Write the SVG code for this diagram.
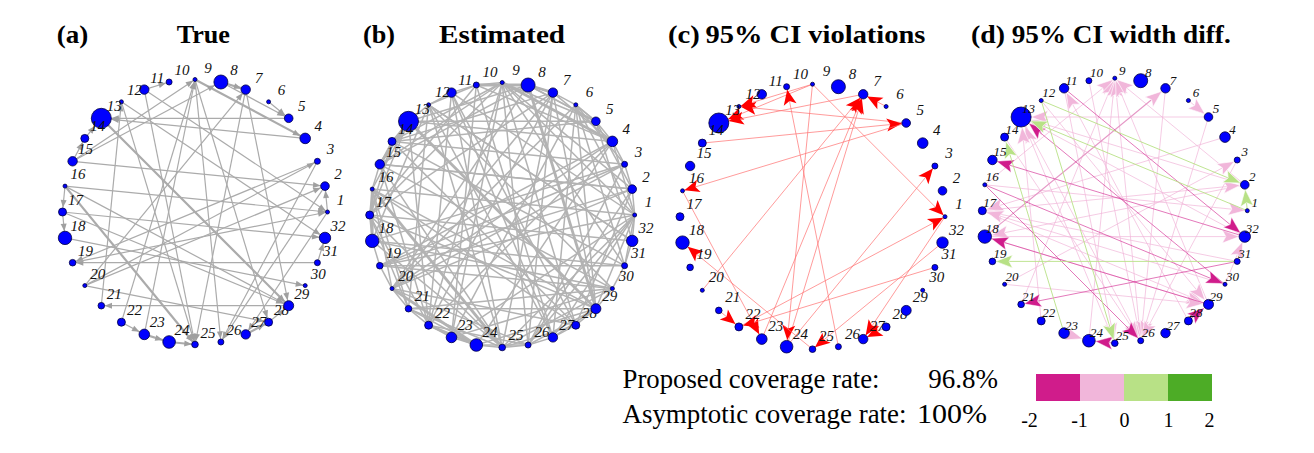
<svg xmlns="http://www.w3.org/2000/svg" xmlns:xlink="http://www.w3.org/1999/xlink" width="1314" height="453" viewBox="0 0 1314 453">
<style>
.t{font-family:"Liberation Serif","Times New Roman",serif;font-weight:bold;font-size:26px;fill:#000}
.cov{font-family:"Liberation Serif","Times New Roman",serif;font-size:27px;fill:#000}
.lg{font-family:"Liberation Serif","Times New Roman",serif;font-size:20px;fill:#000;text-anchor:middle}
.nd circle{fill:#0000ff;stroke:#000040;stroke-width:0.8}
.nd text{font-family:"Liberation Serif","Times New Roman",serif;font-style:italic;font-size:15px;fill:#111;text-anchor:middle}
.pa .nd text{transform:translate(13px,-7px)}
.pb .nd text{transform:translate(13.8px,-7.6px)}
.pc .nd text{transform:translate(14px,-8px)}
.pd .nd text{transform:translate(7.5px,-3.6px);font-size:13px}
.ea line{stroke:#ababab;stroke-width:1.2}
.ea .k{stroke-width:2.2}
.eb line{stroke:#b3b3b3;stroke-width:1.5}
.eb .k{stroke-width:2.8}
.ec line{stroke:#ff7070;stroke-width:0.7}
.ed .p{stroke:#f1b6da;stroke-width:0.9;stroke-opacity:0.8}
.ed .m{stroke:#d01c8b;stroke-width:0.8;stroke-opacity:0.75}
.ed .g{stroke:#b8e186;stroke-width:0.9}
</style>
<defs>
<path id="hs" d="M0,0 L-7.5,-3 L-7.5,3 Z"/>
<path id="hb" d="M0,0 L-15,-6.5 L-11.5,0 L-15,6.5 Z"/>
<path id="hd" d="M0,0 L-17,-6.5 L-13.5,0 L-17,6.5 Z"/>
<marker id="g2" viewBox="-20 -10 30 20" markerWidth="30" markerHeight="20" refX="2" refY="0" orient="auto" markerUnits="userSpaceOnUse"><use href="#hs" fill="#a0a0a0"/></marker>
<marker id="g3" viewBox="-20 -10 30 20" markerWidth="30" markerHeight="20" refX="3.2" refY="0" orient="auto" markerUnits="userSpaceOnUse"><use href="#hs" fill="#a0a0a0"/></marker>
<marker id="g45" viewBox="-20 -10 30 20" markerWidth="30" markerHeight="20" refX="4.5" refY="0" orient="auto" markerUnits="userSpaceOnUse"><use href="#hs" fill="#a0a0a0"/></marker>
<marker id="g55" viewBox="-20 -10 30 20" markerWidth="30" markerHeight="20" refX="5.5" refY="0" orient="auto" markerUnits="userSpaceOnUse"><use href="#hs" fill="#a0a0a0"/></marker>
<marker id="g65" viewBox="-20 -10 30 20" markerWidth="30" markerHeight="20" refX="6.7" refY="0" orient="auto" markerUnits="userSpaceOnUse"><use href="#hs" fill="#a0a0a0"/></marker>
<marker id="g10" viewBox="-20 -10 30 20" markerWidth="30" markerHeight="20" refX="10" refY="0" orient="auto" markerUnits="userSpaceOnUse"><use href="#hs" fill="#a0a0a0"/></marker>
<marker id="r2" viewBox="-20 -10 30 20" markerWidth="30" markerHeight="20" refX="2" refY="0" orient="auto" markerUnits="userSpaceOnUse"><use href="#hb" fill="#ff0000"/></marker>
<marker id="r3" viewBox="-20 -10 30 20" markerWidth="30" markerHeight="20" refX="3.2" refY="0" orient="auto" markerUnits="userSpaceOnUse"><use href="#hb" fill="#ff0000"/></marker>
<marker id="r45" viewBox="-20 -10 30 20" markerWidth="30" markerHeight="20" refX="4.5" refY="0" orient="auto" markerUnits="userSpaceOnUse"><use href="#hb" fill="#ff0000"/></marker>
<marker id="r55" viewBox="-20 -10 30 20" markerWidth="30" markerHeight="20" refX="5.5" refY="0" orient="auto" markerUnits="userSpaceOnUse"><use href="#hb" fill="#ff0000"/></marker>
<marker id="r65" viewBox="-20 -10 30 20" markerWidth="30" markerHeight="20" refX="6.7" refY="0" orient="auto" markerUnits="userSpaceOnUse"><use href="#hb" fill="#ff0000"/></marker>
<marker id="r10" viewBox="-20 -10 30 20" markerWidth="30" markerHeight="20" refX="10" refY="0" orient="auto" markerUnits="userSpaceOnUse"><use href="#hb" fill="#ff0000"/></marker>
<marker id="p2" viewBox="-20 -10 30 20" markerWidth="30" markerHeight="20" refX="2" refY="0" orient="auto" markerUnits="userSpaceOnUse"><use href="#hd" fill="#f1b6da" stroke="#fff" stroke-width="0.6"/></marker>
<marker id="p3" viewBox="-20 -10 30 20" markerWidth="30" markerHeight="20" refX="3.2" refY="0" orient="auto" markerUnits="userSpaceOnUse"><use href="#hd" fill="#f1b6da" stroke="#fff" stroke-width="0.6"/></marker>
<marker id="p45" viewBox="-20 -10 30 20" markerWidth="30" markerHeight="20" refX="4.5" refY="0" orient="auto" markerUnits="userSpaceOnUse"><use href="#hd" fill="#f1b6da" stroke="#fff" stroke-width="0.6"/></marker>
<marker id="p55" viewBox="-20 -10 30 20" markerWidth="30" markerHeight="20" refX="5.5" refY="0" orient="auto" markerUnits="userSpaceOnUse"><use href="#hd" fill="#f1b6da" stroke="#fff" stroke-width="0.6"/></marker>
<marker id="p65" viewBox="-20 -10 30 20" markerWidth="30" markerHeight="20" refX="6.7" refY="0" orient="auto" markerUnits="userSpaceOnUse"><use href="#hd" fill="#f1b6da" stroke="#fff" stroke-width="0.6"/></marker>
<marker id="p10" viewBox="-20 -10 30 20" markerWidth="30" markerHeight="20" refX="10" refY="0" orient="auto" markerUnits="userSpaceOnUse"><use href="#hd" fill="#f1b6da" stroke="#fff" stroke-width="0.6"/></marker>
<marker id="m2" viewBox="-20 -10 30 20" markerWidth="30" markerHeight="20" refX="2" refY="0" orient="auto" markerUnits="userSpaceOnUse"><use href="#hd" fill="#d01c8b" stroke="#fff" stroke-width="0.4"/></marker>
<marker id="m3" viewBox="-20 -10 30 20" markerWidth="30" markerHeight="20" refX="3.2" refY="0" orient="auto" markerUnits="userSpaceOnUse"><use href="#hd" fill="#d01c8b" stroke="#fff" stroke-width="0.4"/></marker>
<marker id="m45" viewBox="-20 -10 30 20" markerWidth="30" markerHeight="20" refX="4.5" refY="0" orient="auto" markerUnits="userSpaceOnUse"><use href="#hd" fill="#d01c8b" stroke="#fff" stroke-width="0.4"/></marker>
<marker id="m55" viewBox="-20 -10 30 20" markerWidth="30" markerHeight="20" refX="5.5" refY="0" orient="auto" markerUnits="userSpaceOnUse"><use href="#hd" fill="#d01c8b" stroke="#fff" stroke-width="0.4"/></marker>
<marker id="m65" viewBox="-20 -10 30 20" markerWidth="30" markerHeight="20" refX="6.7" refY="0" orient="auto" markerUnits="userSpaceOnUse"><use href="#hd" fill="#d01c8b" stroke="#fff" stroke-width="0.4"/></marker>
<marker id="m10" viewBox="-20 -10 30 20" markerWidth="30" markerHeight="20" refX="10" refY="0" orient="auto" markerUnits="userSpaceOnUse"><use href="#hd" fill="#d01c8b" stroke="#fff" stroke-width="0.4"/></marker>
<marker id="q3" viewBox="-20 -10 30 20" markerWidth="30" markerHeight="20" refX="3.2" refY="0" orient="auto" markerUnits="userSpaceOnUse"><use href="#hd" fill="#b8e186" stroke="#fff" stroke-width="0.6"/></marker>
<marker id="q45" viewBox="-20 -10 30 20" markerWidth="30" markerHeight="20" refX="4.5" refY="0" orient="auto" markerUnits="userSpaceOnUse"><use href="#hd" fill="#b8e186" stroke="#fff" stroke-width="0.6"/></marker>
<marker id="q10" viewBox="-20 -10 30 20" markerWidth="30" markerHeight="20" refX="10" refY="0" orient="auto" markerUnits="userSpaceOnUse"><use href="#hd" fill="#b8e186" stroke="#fff" stroke-width="0.6"/></marker>
</defs>
<rect width="1314" height="453" fill="#ffffff"/>

<g id="titles">
<text class="t" x="56.7" y="42.5" textLength="31.6" lengthAdjust="spacingAndGlyphs">(a)</text>
<text class="t" x="176.7" y="42.5" textLength="53.3" lengthAdjust="spacingAndGlyphs">True</text>
<text class="t" x="363" y="42.5" textLength="32" lengthAdjust="spacingAndGlyphs">(b)</text>
<text class="t" x="439" y="42.5" textLength="126" lengthAdjust="spacingAndGlyphs">Estimated</text>
<text class="t" x="668" y="42.5" textLength="31.8" lengthAdjust="spacingAndGlyphs">(c)</text>
<text class="t" x="705.6" y="42.5" textLength="219.8" lengthAdjust="spacingAndGlyphs">95% CI violations</text>
<text class="t" x="971" y="42.5" textLength="34" lengthAdjust="spacingAndGlyphs">(d)</text>
<text class="t" x="1011.7" y="42.5" textLength="219" lengthAdjust="spacingAndGlyphs">95% CI width diff.</text>
</g>

<!-- Panel (a) True -->
<g id="panel-a" class="pa" transform="translate(195,212)">
<g id="edges-a" class="ea">
<line x1="0" y1="-132.5" x2="110.2" y2="-73.6" class="k" marker-end="url(#g55)"/>
<line x1="25.9" y1="-130" x2="50.7" y2="-122.4" class="k" marker-end="url(#g45)"/>
<line x1="25.9" y1="-130" x2="93.7" y2="-93.7" marker-end="url(#g45)"/>
<line x1="73.6" y1="-110.2" x2="93.7" y2="-93.7" marker-end="url(#g45)"/>
<line x1="50.7" y1="-122.4" x2="93.7" y2="93.7" marker-end="url(#g55)"/>
<line x1="50.7" y1="-122.4" x2="0" y2="132.5" marker-end="url(#g3)"/>
<line x1="0" y1="-132.5" x2="25.9" y2="130" marker-end="url(#g3)"/>
<line x1="0" y1="-132.5" x2="73.6" y2="110.2" marker-end="url(#g45)"/>
<line x1="-50.7" y1="122.4" x2="0" y2="-132.5" marker-end="url(#g2)"/>
<line x1="-73.6" y1="110.2" x2="0" y2="-132.5" marker-end="url(#g2)"/>
<line x1="-122.4" y1="-50.7" x2="0" y2="-132.5" marker-end="url(#g2)"/>
<line x1="-122.4" y1="-50.7" x2="25.9" y2="-130" marker-end="url(#g65)"/>
<line x1="-50.7" y1="-122.4" x2="-25.9" y2="-130" marker-end="url(#g3)"/>
<line x1="-93.7" y1="-93.7" x2="93.7" y2="93.7" class="k" marker-end="url(#g55)"/>
<line x1="-130" y1="-25.9" x2="93.7" y2="93.7" marker-end="url(#g55)"/>
<line x1="-132.5" y1="0" x2="93.7" y2="93.7" marker-end="url(#g55)"/>
<line x1="-130" y1="25.9" x2="110.2" y2="73.6" marker-end="url(#g2)"/>
<line x1="-130" y1="-25.9" x2="132.5" y2="0" marker-end="url(#g2)"/>
<line x1="-122.4" y1="-50.7" x2="130" y2="-25.9" marker-end="url(#g45)"/>
<line x1="110.2" y1="-73.6" x2="-93.7" y2="-93.7" marker-end="url(#g10)"/>
<line x1="93.7" y1="-93.7" x2="-93.7" y2="-93.7" marker-end="url(#g10)"/>
<line x1="122.4" y1="-50.7" x2="-122.4" y2="50.7" marker-end="url(#g3)"/>
<line x1="122.4" y1="50.7" x2="-122.4" y2="50.7" marker-end="url(#g3)"/>
<line x1="-110.2" y1="73.6" x2="122.4" y2="-50.7" marker-end="url(#g3)"/>
<line x1="-110.2" y1="73.6" x2="50.7" y2="-122.4" marker-end="url(#g45)"/>
<line x1="93.7" y1="93.7" x2="-93.7" y2="93.7" marker-end="url(#g3)"/>
<line x1="-110.2" y1="73.6" x2="73.6" y2="110.2" marker-end="url(#g45)"/>
<line x1="-73.6" y1="-110.2" x2="0" y2="132.5" marker-end="url(#g3)"/>
<line x1="-50.7" y1="-122.4" x2="0" y2="132.5" marker-end="url(#g3)"/>
<line x1="-130" y1="-25.9" x2="0" y2="132.5" class="k" marker-end="url(#g3)"/>
<line x1="-93.7" y1="93.7" x2="-73.6" y2="-110.2" marker-end="url(#g2)"/>
<line x1="-130" y1="-25.9" x2="-132.5" y2="0" marker-end="url(#g45)"/>
<line x1="-132.5" y1="0" x2="-130" y2="25.9" marker-end="url(#g65)"/>
<line x1="-110.2" y1="-73.6" x2="-93.7" y2="-93.7" marker-end="url(#g10)"/>
<line x1="-122.4" y1="-50.7" x2="-110.2" y2="-73.6" marker-end="url(#g45)"/>
<line x1="-73.6" y1="110.2" x2="-50.7" y2="122.4" marker-end="url(#g55)"/>
<line x1="-50.7" y1="122.4" x2="-25.9" y2="130" class="k" marker-end="url(#g65)"/>
<line x1="-25.9" y1="130" x2="0" y2="132.5" class="k" marker-end="url(#g3)"/>
<line x1="50.7" y1="122.4" x2="73.6" y2="110.2" class="k" marker-end="url(#g45)"/>
<line x1="73.6" y1="110.2" x2="93.7" y2="93.7" marker-end="url(#g55)"/>
<line x1="122.4" y1="50.7" x2="130" y2="25.9" marker-end="url(#g55)"/>
<line x1="132.5" y1="0" x2="130" y2="-25.9" marker-end="url(#g45)"/>
<line x1="130" y1="-25.9" x2="25.9" y2="130" marker-end="url(#g3)"/>
<line x1="122.4" y1="-50.7" x2="25.9" y2="130" marker-end="url(#g3)"/>
<line x1="132.5" y1="0" x2="50.7" y2="122.4" marker-end="url(#g45)"/>
<line x1="-73.6" y1="-110.2" x2="130" y2="25.9" marker-end="url(#g55)"/>
<line x1="-50.7" y1="-122.4" x2="132.5" y2="0" marker-end="url(#g2)"/>
<line x1="-122.4" y1="50.7" x2="132.5" y2="0" marker-end="url(#g2)"/>
<line x1="-110.2" y1="73.6" x2="130" y2="-25.9" marker-end="url(#g45)"/>
<line x1="-132.5" y1="0" x2="130" y2="25.9" marker-end="url(#g55)"/>
</g>
<g id="nodes-a" class="nd">
<g id="a-n1" transform="translate(132.5,0)"><circle r="2"/><text>1</text></g>
<g id="a-n2" transform="translate(130,-25.9)"><circle r="4.3"/><text>2</text></g>
<g id="a-n3" transform="translate(122.4,-50.7)"><circle r="3"/><text>3</text></g>
<g id="a-n4" transform="translate(110.2,-73.6)"><circle r="5.3"/><text>4</text></g>
<g id="a-n5" transform="translate(93.7,-93.7)"><circle r="4.3"/><text>5</text></g>
<g id="a-n6" transform="translate(73.6,-110.2)"><circle r="2"/><text>6</text></g>
<g id="a-n7" transform="translate(50.7,-122.4)"><circle r="4.7"/><text>7</text></g>
<g id="a-n8" transform="translate(25.9,-130)"><circle r="7"/><text>8</text></g>
<g id="a-n9" transform="translate(0,-132.5)"><circle r="2"/><text>9</text></g>
<g id="a-n10" transform="translate(-25.9,-130)"><circle r="3"/><text>10</text></g>
<g id="a-n11" transform="translate(-50.7,-122.4)"><circle r="4.7"/><text>11</text></g>
<g id="a-n12" transform="translate(-73.6,-110.2)"><circle r="2"/><text>12</text></g>
<g id="a-n13" transform="translate(-93.7,-93.7)"><circle r="10"/><text>13</text></g>
<g id="a-n14" transform="translate(-110.2,-73.6)"><circle r="4"/><text>14</text></g>
<g id="a-n15" transform="translate(-122.4,-50.7)"><circle r="4.7"/><text>15</text></g>
<g id="a-n16" transform="translate(-130,-25.9)"><circle r="2"/><text>16</text></g>
<g id="a-n17" transform="translate(-132.5,0)"><circle r="4"/><text>17</text></g>
<g id="a-n18" transform="translate(-130,25.9)"><circle r="6.7"/><text>18</text></g>
<g id="a-n19" transform="translate(-122.4,50.7)"><circle r="3.3"/><text>19</text></g>
<g id="a-n20" transform="translate(-110.2,73.6)"><circle r="2"/><text>20</text></g>
<g id="a-n21" transform="translate(-93.7,93.7)"><circle r="3.3"/><text>21</text></g>
<g id="a-n22" transform="translate(-73.6,110.2)"><circle r="4"/><text>22</text></g>
<g id="a-n23" transform="translate(-50.7,122.4)"><circle r="5.3"/><text>23</text></g>
<g id="a-n24" transform="translate(-25.9,130)"><circle r="6.3"/><text>24</text></g>
<g id="a-n25" transform="translate(0,132.5)"><circle r="3.3"/><text>25</text></g>
<g id="a-n26" transform="translate(25.9,130)"><circle r="3"/><text>26</text></g>
<g id="a-n27" transform="translate(50.7,122.4)"><circle r="4.7"/><text>27</text></g>
<g id="a-n28" transform="translate(73.6,110.2)"><circle r="4"/><text>28</text></g>
<g id="a-n29" transform="translate(93.7,93.7)"><circle r="5"/><text>29</text></g>
<g id="a-n30" transform="translate(110.2,73.6)"><circle r="2"/><text>30</text></g>
<g id="a-n31" transform="translate(122.4,50.7)"><circle r="3"/><text>31</text></g>
<g id="a-n32" transform="translate(130,25.9)"><circle r="5.7"/><text>32</text></g>
</g>
</g>

<!-- Panel (b) Estimated -->
<g id="panel-b" class="pb" transform="translate(502.2,215)">
<g id="edges-b" class="eb">
<line x1="0" y1="-132.5" x2="110.2" y2="-73.6" class="k"/>
<line x1="25.9" y1="-130" x2="50.7" y2="-122.4" class="k"/>
<line x1="25.9" y1="-130" x2="93.7" y2="-93.7"/>
<line x1="73.6" y1="-110.2" x2="93.7" y2="-93.7"/>
<line x1="50.7" y1="-122.4" x2="93.7" y2="93.7"/>
<line x1="50.7" y1="-122.4" x2="0" y2="132.5"/>
<line x1="0" y1="-132.5" x2="25.9" y2="130"/>
<line x1="0" y1="-132.5" x2="73.6" y2="110.2"/>
<line x1="-50.7" y1="122.4" x2="0" y2="-132.5"/>
<line x1="-73.6" y1="110.2" x2="0" y2="-132.5"/>
<line x1="-122.4" y1="-50.7" x2="0" y2="-132.5"/>
<line x1="-122.4" y1="-50.7" x2="25.9" y2="-130"/>
<line x1="-50.7" y1="-122.4" x2="-25.9" y2="-130"/>
<line x1="-93.7" y1="-93.7" x2="93.7" y2="93.7" class="k"/>
<line x1="-130" y1="-25.9" x2="93.7" y2="93.7"/>
<line x1="-132.5" y1="0" x2="93.7" y2="93.7"/>
<line x1="-130" y1="25.9" x2="110.2" y2="73.6"/>
<line x1="-130" y1="-25.9" x2="132.5" y2="0"/>
<line x1="-122.4" y1="-50.7" x2="130" y2="-25.9"/>
<line x1="110.2" y1="-73.6" x2="-93.7" y2="-93.7"/>
<line x1="93.7" y1="-93.7" x2="-93.7" y2="-93.7"/>
<line x1="122.4" y1="-50.7" x2="-122.4" y2="50.7"/>
<line x1="122.4" y1="50.7" x2="-122.4" y2="50.7"/>
<line x1="-110.2" y1="73.6" x2="122.4" y2="-50.7"/>
<line x1="-110.2" y1="73.6" x2="50.7" y2="-122.4"/>
<line x1="93.7" y1="93.7" x2="-93.7" y2="93.7"/>
<line x1="-110.2" y1="73.6" x2="73.6" y2="110.2"/>
<line x1="-73.6" y1="-110.2" x2="0" y2="132.5"/>
<line x1="-50.7" y1="-122.4" x2="0" y2="132.5"/>
<line x1="-130" y1="-25.9" x2="0" y2="132.5" class="k"/>
<line x1="-93.7" y1="93.7" x2="-73.6" y2="-110.2"/>
<line x1="-130" y1="-25.9" x2="-132.5" y2="0"/>
<line x1="-132.5" y1="0" x2="-130" y2="25.9"/>
<line x1="-110.2" y1="-73.6" x2="-93.7" y2="-93.7"/>
<line x1="-122.4" y1="-50.7" x2="-110.2" y2="-73.6"/>
<line x1="-73.6" y1="110.2" x2="-50.7" y2="122.4"/>
<line x1="-50.7" y1="122.4" x2="-25.9" y2="130"/>
<line x1="-25.9" y1="130" x2="0" y2="132.5"/>
<line x1="50.7" y1="122.4" x2="73.6" y2="110.2"/>
<line x1="73.6" y1="110.2" x2="93.7" y2="93.7"/>
<line x1="122.4" y1="50.7" x2="130" y2="25.9"/>
<line x1="132.5" y1="0" x2="130" y2="-25.9"/>
<line x1="130" y1="-25.9" x2="25.9" y2="130"/>
<line x1="122.4" y1="-50.7" x2="25.9" y2="130"/>
<line x1="132.5" y1="0" x2="50.7" y2="122.4"/>
<line x1="-73.6" y1="-110.2" x2="130" y2="25.9"/>
<line x1="-50.7" y1="-122.4" x2="132.5" y2="0"/>
<line x1="-122.4" y1="50.7" x2="132.5" y2="0"/>
<line x1="-110.2" y1="73.6" x2="130" y2="-25.9"/>
<line x1="-132.5" y1="0" x2="130" y2="25.9"/>
<line x1="132.5" y1="0" x2="0" y2="-132.5"/>
<line x1="130" y1="-25.9" x2="-122.4" y2="-50.7"/>
<line x1="122.4" y1="-50.7" x2="-110.2" y2="-73.6"/>
<line x1="110.2" y1="-73.6" x2="-122.4" y2="50.7"/>
<line x1="93.7" y1="-93.7" x2="-110.2" y2="-73.6"/>
<line x1="73.6" y1="-110.2" x2="-110.2" y2="73.6"/>
<line x1="50.7" y1="-122.4" x2="-132.5" y2="0"/>
<line x1="25.9" y1="-130" x2="-110.2" y2="73.6"/>
<line x1="0" y1="-132.5" x2="-132.5" y2="0"/>
<line x1="-25.9" y1="-130" x2="-50.7" y2="122.4"/>
<line x1="-50.7" y1="-122.4" x2="-73.6" y2="110.2"/>
<line x1="-73.6" y1="-110.2" x2="50.7" y2="122.4"/>
<line x1="-93.7" y1="-93.7" x2="-73.6" y2="110.2"/>
<line x1="-110.2" y1="-73.6" x2="73.6" y2="110.2"/>
<line x1="-122.4" y1="-50.7" x2="0" y2="132.5"/>
<line x1="-130" y1="-25.9" x2="73.6" y2="110.2"/>
<line x1="-132.5" y1="0" x2="0" y2="132.5"/>
<line x1="-130" y1="25.9" x2="122.4" y2="50.7"/>
<line x1="-122.4" y1="50.7" x2="110.2" y2="73.6"/>
<line x1="-110.2" y1="73.6" x2="110.2" y2="-73.6"/>
<line x1="-93.7" y1="93.7" x2="110.2" y2="73.6"/>
<line x1="-73.6" y1="110.2" x2="110.2" y2="-73.6"/>
<line x1="-50.7" y1="122.4" x2="132.5" y2="0"/>
<line x1="-25.9" y1="130" x2="110.2" y2="-73.6"/>
<line x1="0" y1="132.5" x2="132.5" y2="0"/>
<line x1="25.9" y1="130" x2="50.7" y2="-122.4"/>
<line x1="50.7" y1="122.4" x2="73.6" y2="-110.2"/>
<line x1="73.6" y1="110.2" x2="-50.7" y2="-122.4"/>
<line x1="93.7" y1="93.7" x2="73.6" y2="-110.2"/>
<line x1="110.2" y1="73.6" x2="-73.6" y2="-110.2"/>
<line x1="122.4" y1="50.7" x2="0" y2="-132.5"/>
<line x1="130" y1="25.9" x2="-73.6" y2="-110.2"/>
<line x1="132.5" y1="0" x2="73.6" y2="-110.2"/>
<line x1="130" y1="-25.9" x2="0" y2="-132.5"/>
<line x1="122.4" y1="-50.7" x2="-130" y2="25.9"/>
<line x1="110.2" y1="-73.6" x2="-25.9" y2="-130"/>
<line x1="93.7" y1="-93.7" x2="0" y2="-132.5"/>
<line x1="73.6" y1="-110.2" x2="-50.7" y2="122.4"/>
<line x1="50.7" y1="-122.4" x2="-110.2" y2="-73.6"/>
<line x1="25.9" y1="-130" x2="-93.7" y2="-93.7"/>
<line x1="0" y1="-132.5" x2="-110.2" y2="-73.6"/>
<line x1="-25.9" y1="-130" x2="-132.5" y2="0"/>
<line x1="-50.7" y1="-122.4" x2="50.7" y2="122.4"/>
<line x1="-73.6" y1="-110.2" x2="-130" y2="25.9"/>
<line x1="-93.7" y1="-93.7" x2="-132.5" y2="0"/>
<line x1="-110.2" y1="-73.6" x2="122.4" y2="50.7"/>
<line x1="-122.4" y1="-50.7" x2="-73.6" y2="110.2"/>
<line x1="-130" y1="-25.9" x2="-93.7" y2="93.7"/>
<line x1="-132.5" y1="0" x2="-73.6" y2="110.2"/>
<line x1="-130" y1="25.9" x2="0" y2="132.5"/>
<line x1="-122.4" y1="50.7" x2="130" y2="-25.9"/>
<line x1="-110.2" y1="73.6" x2="25.9" y2="130"/>
<line x1="-93.7" y1="93.7" x2="0" y2="132.5"/>
<line x1="-73.6" y1="110.2" x2="50.7" y2="-122.4"/>
<line x1="-50.7" y1="122.4" x2="110.2" y2="73.6"/>
<line x1="-25.9" y1="130" x2="93.7" y2="93.7"/>
<line x1="0" y1="132.5" x2="110.2" y2="73.6"/>
<line x1="25.9" y1="130" x2="132.5" y2="0"/>
<line x1="50.7" y1="122.4" x2="-25.9" y2="-130"/>
<line x1="73.6" y1="110.2" x2="130" y2="-25.9"/>
<line x1="93.7" y1="93.7" x2="132.5" y2="0"/>
<line x1="110.2" y1="73.6" x2="-122.4" y2="-50.7"/>
<line x1="122.4" y1="50.7" x2="73.6" y2="-110.2"/>
<line x1="130" y1="25.9" x2="93.7" y2="-93.7"/>
<line x1="-50.7" y1="-122.4" x2="-73.6" y2="-110.2"/>
<line x1="-73.6" y1="-110.2" x2="-93.7" y2="-93.7"/>
<line x1="-93.7" y1="-93.7" x2="-122.4" y2="-50.7" class="k"/>
<line x1="-122.4" y1="-50.7" x2="-130" y2="-25.9"/>
<line x1="-130" y1="-25.9" x2="-130" y2="25.9" class="k"/>
<line x1="-130" y1="25.9" x2="-122.4" y2="50.7"/>
<line x1="-122.4" y1="50.7" x2="-110.2" y2="73.6"/>
<line x1="-110.2" y1="73.6" x2="-93.7" y2="93.7"/>
<line x1="-93.7" y1="93.7" x2="-73.6" y2="110.2"/>
<line x1="-73.6" y1="110.2" x2="-25.9" y2="130" class="k"/>
<line x1="-25.9" y1="130" x2="25.9" y2="130"/>
<line x1="0" y1="132.5" x2="25.9" y2="130"/>
<line x1="25.9" y1="130" x2="50.7" y2="122.4"/>
<line x1="50.7" y1="122.4" x2="93.7" y2="93.7"/>
<line x1="93.7" y1="93.7" x2="110.2" y2="73.6"/>
<line x1="110.2" y1="73.6" x2="122.4" y2="50.7"/>
<line x1="122.4" y1="50.7" x2="132.5" y2="0"/>
<line x1="130" y1="25.9" x2="132.5" y2="0"/>
<line x1="130" y1="-25.9" x2="122.4" y2="-50.7"/>
<line x1="122.4" y1="-50.7" x2="110.2" y2="-73.6"/>
<line x1="110.2" y1="-73.6" x2="93.7" y2="-93.7"/>
<line x1="93.7" y1="-93.7" x2="73.6" y2="-110.2"/>
<line x1="73.6" y1="-110.2" x2="50.7" y2="-122.4"/>
<line x1="50.7" y1="-122.4" x2="25.9" y2="-130"/>
<line x1="0" y1="-132.5" x2="-25.9" y2="-130"/>
<line x1="-25.9" y1="-130" x2="-73.6" y2="-110.2"/>
<line x1="25.9" y1="-130" x2="-25.9" y2="-130" class="k"/>
<line x1="-93.7" y1="-93.7" x2="-130" y2="-25.9"/>
<line x1="-110.2" y1="-73.6" x2="-132.5" y2="0"/>
<line x1="-130" y1="-25.9" x2="-110.2" y2="73.6"/>
<line x1="-132.5" y1="0" x2="-93.7" y2="93.7"/>
<line x1="-110.2" y1="73.6" x2="-25.9" y2="130" class="k"/>
<line x1="-93.7" y1="93.7" x2="-25.9" y2="130"/>
<line x1="-73.6" y1="110.2" x2="25.9" y2="130"/>
<line x1="0" y1="132.5" x2="73.6" y2="110.2"/>
<line x1="25.9" y1="130" x2="93.7" y2="93.7"/>
<line x1="110.2" y1="-73.6" x2="50.7" y2="-122.4"/>
<line x1="93.7" y1="-93.7" x2="25.9" y2="-130"/>
<line x1="122.4" y1="-50.7" x2="73.6" y2="-110.2"/>
<line x1="130" y1="-25.9" x2="93.7" y2="-93.7"/>
<line x1="132.5" y1="0" x2="110.2" y2="-73.6"/>
<line x1="25.9" y1="-130" x2="93.7" y2="93.7" class="k"/>
</g>
<g id="nodes-b" class="nd">
<g id="b-n1" transform="translate(132.5,0)"><circle r="2"/><text>1</text></g>
<g id="b-n2" transform="translate(130,-25.9)"><circle r="4.3"/><text>2</text></g>
<g id="b-n3" transform="translate(122.4,-50.7)"><circle r="3"/><text>3</text></g>
<g id="b-n4" transform="translate(110.2,-73.6)"><circle r="5.3"/><text>4</text></g>
<g id="b-n5" transform="translate(93.7,-93.7)"><circle r="4.3"/><text>5</text></g>
<g id="b-n6" transform="translate(73.6,-110.2)"><circle r="2"/><text>6</text></g>
<g id="b-n7" transform="translate(50.7,-122.4)"><circle r="4.7"/><text>7</text></g>
<g id="b-n8" transform="translate(25.9,-130)"><circle r="7"/><text>8</text></g>
<g id="b-n9" transform="translate(0,-132.5)"><circle r="2"/><text>9</text></g>
<g id="b-n10" transform="translate(-25.9,-130)"><circle r="3"/><text>10</text></g>
<g id="b-n11" transform="translate(-50.7,-122.4)"><circle r="4.7"/><text>11</text></g>
<g id="b-n12" transform="translate(-73.6,-110.2)"><circle r="2"/><text>12</text></g>
<g id="b-n13" transform="translate(-93.7,-93.7)"><circle r="10"/><text>13</text></g>
<g id="b-n14" transform="translate(-110.2,-73.6)"><circle r="4"/><text>14</text></g>
<g id="b-n15" transform="translate(-122.4,-50.7)"><circle r="4.7"/><text>15</text></g>
<g id="b-n16" transform="translate(-130,-25.9)"><circle r="2"/><text>16</text></g>
<g id="b-n17" transform="translate(-132.5,0)"><circle r="4"/><text>17</text></g>
<g id="b-n18" transform="translate(-130,25.9)"><circle r="6.7"/><text>18</text></g>
<g id="b-n19" transform="translate(-122.4,50.7)"><circle r="3.3"/><text>19</text></g>
<g id="b-n20" transform="translate(-110.2,73.6)"><circle r="2"/><text>20</text></g>
<g id="b-n21" transform="translate(-93.7,93.7)"><circle r="3.3"/><text>21</text></g>
<g id="b-n22" transform="translate(-73.6,110.2)"><circle r="4"/><text>22</text></g>
<g id="b-n23" transform="translate(-50.7,122.4)"><circle r="5.3"/><text>23</text></g>
<g id="b-n24" transform="translate(-25.9,130)"><circle r="6.3"/><text>24</text></g>
<g id="b-n25" transform="translate(0,132.5)"><circle r="3.3"/><text>25</text></g>
<g id="b-n26" transform="translate(25.9,130)"><circle r="3"/><text>26</text></g>
<g id="b-n27" transform="translate(50.7,122.4)"><circle r="4.7"/><text>27</text></g>
<g id="b-n28" transform="translate(73.6,110.2)"><circle r="4"/><text>28</text></g>
<g id="b-n29" transform="translate(93.7,93.7)"><circle r="5"/><text>29</text></g>
<g id="b-n30" transform="translate(110.2,73.6)"><circle r="2"/><text>30</text></g>
<g id="b-n31" transform="translate(122.4,50.7)"><circle r="3"/><text>31</text></g>
<g id="b-n32" transform="translate(130,25.9)"><circle r="5.7"/><text>32</text></g>
</g>
</g>

<!-- Panel (c) 95% CI violations -->
<g id="panel-c" class="pc" transform="translate(812.5,216.7)">
<g id="edges-c" class="ec">
<line x1="0" y1="-132.5" x2="-73.6" y2="-110.2" marker-end="url(#r2)"/>
<line x1="0" y1="-132.5" x2="-93.7" y2="-93.7" marker-end="url(#r10)"/>
<line x1="50.7" y1="-122.4" x2="-93.7" y2="-93.7" marker-end="url(#r10)"/>
<line x1="93.7" y1="-93.7" x2="-73.6" y2="-110.2" marker-end="url(#r2)"/>
<line x1="25.9" y1="130" x2="-25.9" y2="-130" marker-end="url(#r3)"/>
<line x1="-110.2" y1="73.6" x2="50.7" y2="-122.4" marker-end="url(#r45)"/>
<line x1="-25.9" y1="130" x2="50.7" y2="-122.4" marker-end="url(#r45)"/>
<line x1="-50.7" y1="122.4" x2="50.7" y2="-122.4" marker-end="url(#r45)"/>
<line x1="73.6" y1="-110.2" x2="50.7" y2="-122.4" marker-end="url(#r45)"/>
<line x1="-110.2" y1="-73.6" x2="93.7" y2="-93.7" marker-end="url(#r45)"/>
<line x1="93.7" y1="-93.7" x2="-130" y2="-25.9" marker-end="url(#r2)"/>
<line x1="-130" y1="-25.9" x2="-50.7" y2="122.4" marker-end="url(#r55)"/>
<line x1="0" y1="-132.5" x2="-25.9" y2="130" marker-end="url(#r65)"/>
<line x1="0" y1="-132.5" x2="132.5" y2="0" marker-end="url(#r2)"/>
<line x1="-25.9" y1="130" x2="122.4" y2="-50.7" marker-end="url(#r3)"/>
<line x1="-73.6" y1="110.2" x2="132.5" y2="0" marker-end="url(#r2)"/>
<line x1="130" y1="25.9" x2="0" y2="132.5" marker-end="url(#r3)"/>
<line x1="122.4" y1="50.7" x2="-73.6" y2="110.2" marker-end="url(#r45)"/>
<line x1="-93.7" y1="93.7" x2="-73.6" y2="110.2" marker-end="url(#r45)"/>
<line x1="0" y1="132.5" x2="-130" y2="25.9" marker-end="url(#r65)"/>
<line x1="132.5" y1="0" x2="50.7" y2="122.4" marker-end="url(#r45)"/>
<line x1="73.6" y1="110.2" x2="50.7" y2="122.4" marker-end="url(#r45)"/>
</g>
<g id="nodes-c" class="nd">
<g id="c-n1" transform="translate(132.5,0)"><circle r="2"/><text>1</text></g>
<g id="c-n2" transform="translate(130,-25.9)"><circle r="4.3"/><text>2</text></g>
<g id="c-n3" transform="translate(122.4,-50.7)"><circle r="3"/><text>3</text></g>
<g id="c-n4" transform="translate(110.2,-73.6)"><circle r="5.3"/><text>4</text></g>
<g id="c-n5" transform="translate(93.7,-93.7)"><circle r="4.3"/><text>5</text></g>
<g id="c-n6" transform="translate(73.6,-110.2)"><circle r="2"/><text>6</text></g>
<g id="c-n7" transform="translate(50.7,-122.4)"><circle r="4.7"/><text>7</text></g>
<g id="c-n8" transform="translate(25.9,-130)"><circle r="7"/><text>8</text></g>
<g id="c-n9" transform="translate(0,-132.5)"><circle r="2"/><text>9</text></g>
<g id="c-n10" transform="translate(-25.9,-130)"><circle r="3"/><text>10</text></g>
<g id="c-n11" transform="translate(-50.7,-122.4)"><circle r="4.7"/><text>11</text></g>
<g id="c-n12" transform="translate(-73.6,-110.2)"><circle r="2"/><text>12</text></g>
<g id="c-n13" transform="translate(-93.7,-93.7)"><circle r="10"/><text>13</text></g>
<g id="c-n14" transform="translate(-110.2,-73.6)"><circle r="4"/><text>14</text></g>
<g id="c-n15" transform="translate(-122.4,-50.7)"><circle r="4.7"/><text>15</text></g>
<g id="c-n16" transform="translate(-130,-25.9)"><circle r="2"/><text>16</text></g>
<g id="c-n17" transform="translate(-132.5,0)"><circle r="4"/><text>17</text></g>
<g id="c-n18" transform="translate(-130,25.9)"><circle r="6.7"/><text>18</text></g>
<g id="c-n19" transform="translate(-122.4,50.7)"><circle r="3.3"/><text>19</text></g>
<g id="c-n20" transform="translate(-110.2,73.6)"><circle r="2"/><text>20</text></g>
<g id="c-n21" transform="translate(-93.7,93.7)"><circle r="3.3"/><text>21</text></g>
<g id="c-n22" transform="translate(-73.6,110.2)"><circle r="4"/><text>22</text></g>
<g id="c-n23" transform="translate(-50.7,122.4)"><circle r="5.3"/><text>23</text></g>
<g id="c-n24" transform="translate(-25.9,130)"><circle r="6.3"/><text>24</text></g>
<g id="c-n25" transform="translate(0,132.5)"><circle r="3.3"/><text>25</text></g>
<g id="c-n26" transform="translate(25.9,130)"><circle r="3"/><text>26</text></g>
<g id="c-n27" transform="translate(50.7,122.4)"><circle r="4.7"/><text>27</text></g>
<g id="c-n28" transform="translate(73.6,110.2)"><circle r="4"/><text>28</text></g>
<g id="c-n29" transform="translate(93.7,93.7)"><circle r="5"/><text>29</text></g>
<g id="c-n30" transform="translate(110.2,73.6)"><circle r="2"/><text>30</text></g>
<g id="c-n31" transform="translate(122.4,50.7)"><circle r="3"/><text>31</text></g>
<g id="c-n32" transform="translate(130,25.9)"><circle r="5.7"/><text>32</text></g>
</g>
</g>

<!-- Panel (d) 95% CI width diff. -->
<g id="panel-d" class="pd" transform="translate(1114.8,210.7)">
<g id="edges-d" class="ed">
<line class="p" x1="-130" y1="-25.9" x2="0" y2="-132.5" marker-end="url(#p2)"/>
<line class="p" x1="-93.7" y1="93.7" x2="0" y2="-132.5" marker-end="url(#p2)"/>
<line class="p" x1="-25.9" y1="130" x2="0" y2="-132.5" marker-end="url(#p2)"/>
<line class="p" x1="25.9" y1="130" x2="0" y2="-132.5" marker-end="url(#p2)"/>
<line class="p" x1="93.7" y1="93.7" x2="0" y2="-132.5" marker-end="url(#p2)"/>
<line class="p" x1="130" y1="-25.9" x2="0" y2="-132.5" marker-end="url(#p2)"/>
<line class="p" x1="73.6" y1="110.2" x2="-50.7" y2="-122.4" marker-end="url(#p45)"/>
<line class="p" x1="130" y1="-25.9" x2="-93.7" y2="-93.7" marker-end="url(#p10)"/>
<line class="p" x1="130" y1="25.9" x2="-93.7" y2="-93.7" marker-end="url(#p10)"/>
<line class="p" x1="93.7" y1="-93.7" x2="-93.7" y2="-93.7" marker-end="url(#p10)"/>
<line class="p" x1="0" y1="132.5" x2="-93.7" y2="-93.7" marker-end="url(#p10)"/>
<line class="p" x1="-73.6" y1="110.2" x2="-93.7" y2="-93.7" marker-end="url(#p10)"/>
<line class="p" x1="122.4" y1="50.7" x2="-132.5" y2="0" marker-end="url(#p45)"/>
<line class="p" x1="110.2" y1="73.6" x2="-132.5" y2="0" marker-end="url(#p45)"/>
<line class="p" x1="110.2" y1="-73.6" x2="-132.5" y2="0" marker-end="url(#p45)"/>
<line class="p" x1="130" y1="-25.9" x2="-130" y2="25.9" marker-end="url(#p65)"/>
<line class="p" x1="-50.7" y1="122.4" x2="-25.9" y2="130" marker-end="url(#p65)"/>
<line class="p" x1="-50.7" y1="-122.4" x2="0" y2="132.5" marker-end="url(#p3)"/>
<line class="p" x1="-93.7" y1="-93.7" x2="25.9" y2="130" marker-end="url(#p3)"/>
<line class="p" x1="-25.9" y1="-130" x2="25.9" y2="130" marker-end="url(#p3)"/>
<line class="p" x1="50.7" y1="-122.4" x2="25.9" y2="130" marker-end="url(#p3)"/>
<line class="p" x1="93.7" y1="-93.7" x2="25.9" y2="130" marker-end="url(#p3)"/>
<line class="p" x1="122.4" y1="-50.7" x2="25.9" y2="130" marker-end="url(#p3)"/>
<line class="p" x1="-110.2" y1="-73.6" x2="25.9" y2="130" marker-end="url(#p3)"/>
<line class="p" x1="-132.5" y1="0" x2="93.7" y2="93.7" marker-end="url(#p55)"/>
<line class="p" x1="-130" y1="25.9" x2="93.7" y2="93.7" marker-end="url(#p55)"/>
<line class="p" x1="-110.2" y1="73.6" x2="93.7" y2="93.7" marker-end="url(#p55)"/>
<line class="p" x1="-73.6" y1="-110.2" x2="93.7" y2="93.7" marker-end="url(#p55)"/>
<line class="p" x1="-110.2" y1="73.6" x2="122.4" y2="-50.7" marker-end="url(#p3)"/>
<line class="p" x1="-132.5" y1="0" x2="130" y2="-25.9" marker-end="url(#p45)"/>
<line class="p" x1="-130" y1="-25.9" x2="132.5" y2="0" marker-end="url(#p2)"/>
<line class="p" x1="-130" y1="25.9" x2="130" y2="25.9" marker-end="url(#p55)"/>
<line class="p" x1="110.2" y1="73.6" x2="130" y2="25.9" marker-end="url(#p55)"/>
<line class="p" x1="-130" y1="25.9" x2="50.7" y2="-122.4" style="stroke:#e597c6;stroke-opacity:1;stroke-width:1.1" marker-end="url(#p45)"/>
<line class="p" x1="73.6" y1="-110.2" x2="93.7" y2="-93.7" marker-end="url(#p45)"/>
<line class="m" x1="110.2" y1="73.6" x2="-93.7" y2="-93.7" marker-end="url(#m10)"/>
<line class="m" x1="130" y1="25.9" x2="-122.4" y2="-50.7" marker-end="url(#m45)"/>
<line class="m" x1="93.7" y1="93.7" x2="-130" y2="25.9" marker-end="url(#m65)"/>
<line class="m" x1="122.4" y1="50.7" x2="-93.7" y2="93.7" marker-end="url(#m3)"/>
<line class="m" x1="0" y1="132.5" x2="-25.9" y2="130" marker-end="url(#m65)"/>
<line class="m" x1="-130" y1="-25.9" x2="25.9" y2="130" marker-end="url(#m3)"/>
<line class="m" x1="-130" y1="-25.9" x2="110.2" y2="73.6" marker-end="url(#m2)"/>
<line class="m" x1="73.6" y1="110.2" x2="93.7" y2="93.7" marker-end="url(#m55)"/>
<line class="m" x1="-50.7" y1="-122.4" x2="130" y2="25.9" marker-end="url(#m55)"/>
<line class="g" x1="132.5" y1="0" x2="-93.7" y2="-93.7" marker-end="url(#q10)"/>
<line class="g" x1="-50.7" y1="122.4" x2="-110.2" y2="-73.6" marker-end="url(#q45)"/>
<line class="g" x1="122.4" y1="50.7" x2="-122.4" y2="50.7" marker-end="url(#q3)"/>
<line class="g" x1="-73.6" y1="-110.2" x2="0" y2="132.5" marker-end="url(#q3)"/>
<line class="g" x1="-73.6" y1="-110.2" x2="130" y2="-25.9" marker-end="url(#q45)"/>
<line class="g" x1="132.5" y1="0" x2="130" y2="-25.9" marker-end="url(#q45)"/>
</g>
<g id="nodes-d" class="nd">
<g id="d-n1" transform="translate(132.5,0)"><circle r="2"/><text>1</text></g>
<g id="d-n2" transform="translate(130,-25.9)"><circle r="4.3"/><text>2</text></g>
<g id="d-n3" transform="translate(122.4,-50.7)"><circle r="3"/><text>3</text></g>
<g id="d-n4" transform="translate(110.2,-73.6)"><circle r="5.3"/><text>4</text></g>
<g id="d-n5" transform="translate(93.7,-93.7)"><circle r="4.3"/><text>5</text></g>
<g id="d-n6" transform="translate(73.6,-110.2)"><circle r="2"/><text>6</text></g>
<g id="d-n7" transform="translate(50.7,-122.4)"><circle r="4.7"/><text>7</text></g>
<g id="d-n8" transform="translate(25.9,-130)"><circle r="7"/><text>8</text></g>
<g id="d-n9" transform="translate(0,-132.5)"><circle r="2"/><text>9</text></g>
<g id="d-n10" transform="translate(-25.9,-130)"><circle r="3"/><text>10</text></g>
<g id="d-n11" transform="translate(-50.7,-122.4)"><circle r="4.7"/><text>11</text></g>
<g id="d-n12" transform="translate(-73.6,-110.2)"><circle r="2"/><text>12</text></g>
<g id="d-n13" transform="translate(-93.7,-93.7)"><circle r="10"/><text>13</text></g>
<g id="d-n14" transform="translate(-110.2,-73.6)"><circle r="4"/><text>14</text></g>
<g id="d-n15" transform="translate(-122.4,-50.7)"><circle r="4.7"/><text>15</text></g>
<g id="d-n16" transform="translate(-130,-25.9)"><circle r="2"/><text>16</text></g>
<g id="d-n17" transform="translate(-132.5,0)"><circle r="4"/><text>17</text></g>
<g id="d-n18" transform="translate(-130,25.9)"><circle r="6.7"/><text>18</text></g>
<g id="d-n19" transform="translate(-122.4,50.7)"><circle r="3.3"/><text>19</text></g>
<g id="d-n20" transform="translate(-110.2,73.6)"><circle r="2"/><text>20</text></g>
<g id="d-n21" transform="translate(-93.7,93.7)"><circle r="3.3"/><text>21</text></g>
<g id="d-n22" transform="translate(-73.6,110.2)"><circle r="4"/><text>22</text></g>
<g id="d-n23" transform="translate(-50.7,122.4)"><circle r="5.3"/><text>23</text></g>
<g id="d-n24" transform="translate(-25.9,130)"><circle r="6.3"/><text>24</text></g>
<g id="d-n25" transform="translate(0,132.5)"><circle r="3.3"/><text>25</text></g>
<g id="d-n26" transform="translate(25.9,130)"><circle r="3"/><text>26</text></g>
<g id="d-n27" transform="translate(50.7,122.4)"><circle r="4.7"/><text>27</text></g>
<g id="d-n28" transform="translate(73.6,110.2)"><circle r="4"/><text>28</text></g>
<g id="d-n29" transform="translate(93.7,93.7)"><circle r="5"/><text>29</text></g>
<g id="d-n30" transform="translate(110.2,73.6)"><circle r="2"/><text>30</text></g>
<g id="d-n31" transform="translate(122.4,50.7)"><circle r="3"/><text>31</text></g>
<g id="d-n32" transform="translate(130,25.9)"><circle r="5.7"/><text>32</text></g>
</g>
</g>

<g id="coverage">
<text class="cov" x="622.5" y="388.3" textLength="257" lengthAdjust="spacingAndGlyphs">Proposed coverage rate:</text>
<text class="cov" x="928.3" y="388.3">96.8%</text>
<text class="cov" x="622.5" y="422.5" textLength="284" lengthAdjust="spacingAndGlyphs">Asymptotic coverage rate:</text>
<text class="cov" x="917" y="422.5" textLength="70" lengthAdjust="spacingAndGlyphs">100%</text>
</g>

<g id="legend">
<rect x="1036" y="374" width="44" height="27" fill="#d01c8b"/>
<rect x="1080" y="374" width="44" height="27" fill="#f1b6da"/>
<rect x="1124" y="374" width="44" height="27" fill="#b8e186"/>
<rect x="1168" y="374" width="44" height="27" fill="#4dac26"/>
<text class="lg" x="1029.5" y="426.7">-2</text>
<text class="lg" x="1079.5" y="426.7">-1</text>
<text class="lg" x="1124.5" y="426.7">0</text>
<text class="lg" x="1168.5" y="426.7">1</text>
<text class="lg" x="1209.5" y="426.7">2</text>
</g>
</svg>
